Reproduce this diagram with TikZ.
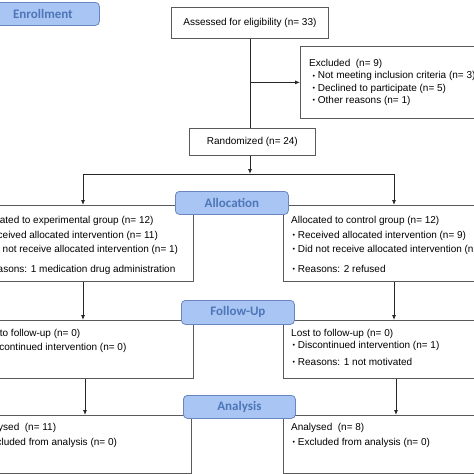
\documentclass[tikz,border=0pt]{standalone}
\usepackage{fontspec}
\setmainfont{Liberation Sans}
\newfontfamily\labelfont{Carlito}
\usetikzlibrary{arrows.meta}
\definecolor{lblfill}{RGB}{168,197,243}
\definecolor{lbldraw}{RGB}{105,135,190}
\definecolor{lbltext}{RGB}{78,118,184}
\definecolor{boxdraw}{RGB}{90,90,90}
\newcommand\bul{{\fontsize{7}{8}\selectfont\raisebox{0.8pt}{•}}\ }
\begin{document}
\begin{tikzpicture}[x=1pt,y=-1pt,
  box/.style={draw=boxdraw, line width=0.8pt, fill=white, inner sep=0pt, anchor=north west,
    font=\fontsize{10}{12}\selectfont},
  lbl/.style={draw=lbldraw, fill=lblfill, rounded corners=4pt, line width=0.8pt,
    font=\labelfont\bfseries\fontsize{13}{15}\selectfont, text=lbltext, inner sep=0pt, anchor=north west},
  txt/.style={anchor=base west, inner sep=0pt, font=\fontsize{10}{12}\selectfont},
  conn/.style={draw=black!85, line width=0.8pt},
  arr/.style={conn, -{Latex[length=5pt,width=4pt]}},
]
\useasboundingbox (0,0) rectangle (474,474);
\clip (0,0) rectangle (474,474);

% boxes
\node[box, minimum width=157pt, minimum height=31pt] (assess) at (171,7) {Assessed for eligibility (n= 33)};
\node[box, minimum width=220pt, minimum height=72pt] (excl) at (300,46) {};
\node[box, minimum width=126pt, minimum height=27pt] (rand) at (189,128) {Randomized (n= 24)};
\node[box, minimum width=223pt, minimum height=76pt] (allocL) at (-30,205) {};
\node[box, minimum width=223pt, minimum height=76pt] (allocR) at (283,205) {};
\node[box, minimum width=223pt, minimum height=58pt] (fuL) at (-30,320) {};
\node[box, minimum width=223pt, minimum height=58pt] (fuR) at (283,320) {};
\node[box, minimum width=221pt, minimum height=58pt] (anL) at (-30,415) {};
\node[box, minimum width=223pt, minimum height=58pt] (anR) at (283,415) {};

% connectors
\coordinate (split) at (250,174);
\coordinate (cl) at (83,174);
\coordinate (cr) at (394,174);
\coordinate (dl) at (85,0);
\coordinate (dr) at (396,0);
\draw[conn] (assess.south) -- (assess.south |- rand.north);
\draw[arr] (assess.south |- excl.west) -- (excl.west);
\draw[arr] (rand.south -| split) -- (split);
\draw[conn] (cl) -- (cr);
\draw[arr] (cl) -- (cl |- allocL.north);
\draw[arr] (cr) -- (cr |- allocR.north);
\draw[arr] (allocL.south -| cl) -- (fuL.north -| cl);
\draw[arr] (allocR.south -| cr) -- (fuR.north -| cr);
\draw[arr] (fuL.south -| dl) -- (anL.north -| dl);
\draw[arr] (fuR.south -| dr) -- (anR.north -| dr);

% labels
\node[lbl, minimum width=113pt, minimum height=23pt] (enr) at (-14,2) {Enrollment};
\node[lbl, minimum width=113pt, minimum height=23pt] (alloc) at (175,191) {Allocation};
\node[lbl, minimum width=113pt, minimum height=24pt] (fu) at (181,300) {Follow-Up};
\node[lbl, minimum width=112pt, minimum height=23pt] (an) at (183,395) {Analysis};

% excluded text
\node[txt] (ex1) at (309,66.5) {Excluded\ \ (n= 9)};
\node[txt] (ex2) at (312.5,78.8) {\bul Not meeting inclusion criteria (n= 3)};
\node[txt] (ex3) at (312.5,91.2) {\bul Declined to participate (n= 5)};
\node[txt] (ex4) at (312.5,103.5) {\bul Other reasons (n= 1)};

% allocation text
\node[txt] (al1) at (-22,223.5) {Allocated to experimental group (n= 12)};
\node[txt] (al2) at (-20.5,238) {\bul Received allocated intervention (n= 11)};
\node[txt] (al3) at (-20.5,252.5) {\bul Did not receive allocated intervention (n= 1)};
\node[txt] (al4) at (-20.5,272) {\bul Reasons: 1 medication drug administration};
\node[txt] (ar1) at (291,223.5) {Allocated to control group (n= 12)};
\node[txt] (ar2) at (292.5,238) {\bul Received allocated intervention (n= 9)};
\node[txt] (ar3) at (292.5,252.5) {\bul Did not receive allocated intervention (n= 3)};
\node[txt] (ar4) at (292.5,272) {\bul Reasons: 2 refused};

% follow-up text
\node[txt] (fl1) at (-22,336.5) {Lost to follow-up (n= 0)};
\node[txt] (fl2) at (-20.5,350) {\bul Discontinued intervention (n= 0)};
\node[txt] (fr1) at (291,336.5) {Lost to follow-up (n= 0)};
\node[txt] (fr2) at (292.5,348.5) {\bul Discontinued intervention (n= 1)};
\node[txt] (fr3) at (292.5,365) {\bul Reasons: 1 not motivated};

% analysis text
\node[txt] (nl1) at (-22,430.5) {Analysed\ \ (n= 11)};
\node[txt] (nl2) at (-20.5,445.5) {\bul Excluded from analysis (n= 0)};
\node[txt] (nr1) at (291,430.5) {Analysed\ \ (n= 8)};
\node[txt] (nr2) at (292.5,445) {\bul Excluded from analysis (n= 0)};
\end{tikzpicture}
\end{document}
